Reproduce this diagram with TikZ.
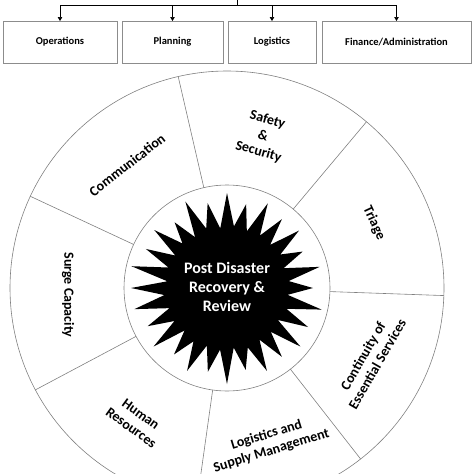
\documentclass[tikz,border=0pt]{standalone}
\usepackage{fontspec}
\setmainfont{Carlito}
\usetikzlibrary{arrows.meta,calc}
\begin{document}
\begin{tikzpicture}[x=1pt,y=-1pt,
  boxnode/.style={draw=black!45, line width=0.8pt, minimum height=42pt, inner sep=0pt, outer sep=0pt, font=\fontsize{10.5}{12}\selectfont\bfseries},
  link/.style={draw=black, line width=0.7pt},
  arr/.style={link, -{Triangle[length=4pt,width=4.5pt]}},
  ring/.style={draw=black!50, line width=0.6pt, circle, inner sep=0pt, outer sep=0pt},
  spoke/.style={draw=black!50, line width=0.6pt},
  lab/.style={font=\fontsize{14}{16.5}\selectfont\bfseries, align=center, inner sep=0pt},
  core/.style={font=\fontsize{16}{19}\selectfont\bfseries, text=white, align=center, inner sep=0pt}]
\useasboundingbox (0,0) rectangle (474,474);
\clip (0,0) rectangle (474,474);
% top boxes
\node[boxnode, minimum width=114pt] (ops) at (60,42) {Operations};
\node[boxnode, minimum width=101pt] (plan) at (172.5,42) {Planning};
\node[boxnode, minimum width=88pt] (logi) at (272,42) {Logistics};
\node[boxnode, minimum width=149pt] (fin) at (396.5,42) {Finance/Administration};
\coordinate (top) at (237,-2);
\coordinate (jn) at (237,5);
\draw[link] (top) -- (jn);
\draw[link] (ops.north |- jn) -- (fin.north |- jn);
\foreach \b in {ops,plan,logi,fin} \draw[arr] (\b.north |- jn) -- (\b.north);
% rings
\node[ring, minimum size=434pt] (outer) at (227,288) {};
\node[ring, minimum size=206pt] (inner) at (227,288) {};
\foreach \a in {103,50,358,308,262,208,155} \draw[spoke] (inner.\a) -- (outer.\a);
% starburst
\begin{scope}[shift={(227,288)}]
\fill[black] (90:95pt)
  \foreach \ro/\ri [count=\k from 0] in {87pt/60pt,96pt/63pt,84pt/60pt,93pt/63pt,90pt/61pt,98pt/62pt,96pt/60pt,95pt/63pt,88pt/61pt,94pt/62pt,85pt/60pt,92pt/63pt,86pt/61pt,96pt/62pt,84pt/60pt,92pt/63pt,88pt/61pt,94pt/62pt,90pt/60pt,97pt/63pt,86pt/61pt,95pt/62pt,84pt/60pt,92pt/63pt,88pt/61pt,94pt/62pt,86pt/60pt,95pt/62pt}
  { -- ({96.43+\k*12.857}:\ri) -- ({102.857+\k*12.857}:\ro) } -- cycle;
\end{scope}
\node[core] (pdr) at (227,287) {Post Disaster\\Recovery \&\\Review};
% sector labels
\node[lab, rotate=38] (comm) at (127,165) {Communication};
\node[lab, rotate=-16] (safe) at (263,136) {Safety\\\&\\Security};
\node[lab, rotate=-65] (tri) at (374,223) {Triage};
\node[lab, rotate=60] (cont) at (370,360) {Continuity of\\Essential Services};
\node[lab, rotate=17] (lsm) at (269,443) {Logistics and\\Supply Management};
\node[lab, rotate=-36] (hr) at (136,421) {Human\\Resources};
\node[lab, rotate=-90] (surge) at (68,295) {Surge Capacity};
\end{tikzpicture}
\end{document}
